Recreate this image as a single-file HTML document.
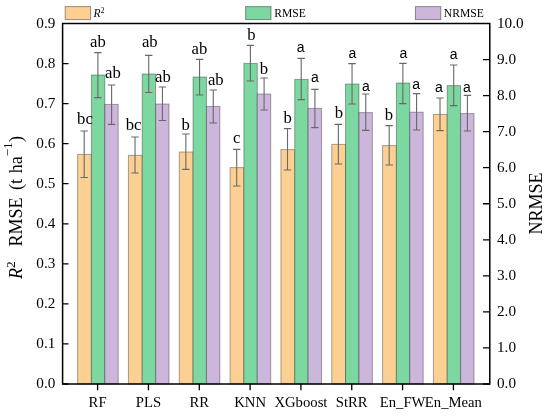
<!DOCTYPE html>
<html><head><meta charset="utf-8"><title>Model comparison chart</title>
<style>html,body{margin:0;padding:0;background:#fff}svg{display:block}text{font-family:"Liberation Serif",serif;fill:#000}.s{font-family:"Liberation Sans",sans-serif}</style>
</head><body>
<svg width="550" height="416" viewBox="0 0 550 416">
<rect width="550" height="416" fill="#fff"/>
<rect x="77.60" y="154.40" width="13.80" height="229.60" fill="#FCCF92" stroke="#000" stroke-opacity="0.33" stroke-width="1"/>
<rect x="91.40" y="75.00" width="13.40" height="309.00" fill="#7DD7A0" stroke="#000" stroke-opacity="0.33" stroke-width="1"/>
<rect x="104.80" y="104.40" width="13.40" height="279.60" fill="#CCB6DC" stroke="#000" stroke-opacity="0.33" stroke-width="1"/>
<rect x="128.43" y="155.40" width="13.80" height="228.60" fill="#FCCF92" stroke="#000" stroke-opacity="0.33" stroke-width="1"/>
<rect x="142.23" y="74.00" width="13.40" height="310.00" fill="#7DD7A0" stroke="#000" stroke-opacity="0.33" stroke-width="1"/>
<rect x="155.63" y="104.00" width="13.40" height="280.00" fill="#CCB6DC" stroke="#000" stroke-opacity="0.33" stroke-width="1"/>
<rect x="179.26" y="152.00" width="13.80" height="232.00" fill="#FCCF92" stroke="#000" stroke-opacity="0.33" stroke-width="1"/>
<rect x="193.06" y="77.00" width="13.40" height="307.00" fill="#7DD7A0" stroke="#000" stroke-opacity="0.33" stroke-width="1"/>
<rect x="206.46" y="106.40" width="13.40" height="277.60" fill="#CCB6DC" stroke="#000" stroke-opacity="0.33" stroke-width="1"/>
<rect x="230.09" y="167.60" width="13.80" height="216.40" fill="#FCCF92" stroke="#000" stroke-opacity="0.33" stroke-width="1"/>
<rect x="243.89" y="63.40" width="13.40" height="320.60" fill="#7DD7A0" stroke="#000" stroke-opacity="0.33" stroke-width="1"/>
<rect x="257.29" y="94.00" width="13.40" height="290.00" fill="#CCB6DC" stroke="#000" stroke-opacity="0.33" stroke-width="1"/>
<rect x="280.92" y="149.60" width="13.80" height="234.40" fill="#FCCF92" stroke="#000" stroke-opacity="0.33" stroke-width="1"/>
<rect x="294.72" y="79.40" width="13.40" height="304.60" fill="#7DD7A0" stroke="#000" stroke-opacity="0.33" stroke-width="1"/>
<rect x="308.12" y="108.40" width="13.40" height="275.60" fill="#CCB6DC" stroke="#000" stroke-opacity="0.33" stroke-width="1"/>
<rect x="331.75" y="144.40" width="13.80" height="239.60" fill="#FCCF92" stroke="#000" stroke-opacity="0.33" stroke-width="1"/>
<rect x="345.55" y="84.00" width="13.40" height="300.00" fill="#7DD7A0" stroke="#000" stroke-opacity="0.33" stroke-width="1"/>
<rect x="358.95" y="112.60" width="13.40" height="271.40" fill="#CCB6DC" stroke="#000" stroke-opacity="0.33" stroke-width="1"/>
<rect x="382.58" y="145.60" width="13.80" height="238.40" fill="#FCCF92" stroke="#000" stroke-opacity="0.33" stroke-width="1"/>
<rect x="396.38" y="83.00" width="13.40" height="301.00" fill="#7DD7A0" stroke="#000" stroke-opacity="0.33" stroke-width="1"/>
<rect x="409.78" y="112.20" width="13.40" height="271.80" fill="#CCB6DC" stroke="#000" stroke-opacity="0.33" stroke-width="1"/>
<rect x="433.41" y="114.40" width="13.80" height="269.60" fill="#FCCF92" stroke="#000" stroke-opacity="0.33" stroke-width="1"/>
<rect x="447.21" y="85.60" width="13.40" height="298.40" fill="#7DD7A0" stroke="#000" stroke-opacity="0.33" stroke-width="1"/>
<rect x="460.61" y="113.60" width="13.40" height="270.40" fill="#CCB6DC" stroke="#000" stroke-opacity="0.33" stroke-width="1"/>
<path d="M84.20 131.00V177.50M80.50 131.00h7.4M80.50 177.50h7.4" fill="none" stroke="#686868" stroke-width="1.1"/>
<path d="M97.90 52.60V97.60M94.20 52.60h7.4M94.20 97.60h7.4" fill="none" stroke="#686868" stroke-width="1.1"/>
<path d="M111.60 85.00V124.40M107.90 85.00h7.4M107.90 124.40h7.4" fill="none" stroke="#686868" stroke-width="1.1"/>
<path d="M135.03 137.00V173.00M131.33 137.00h7.4M131.33 173.00h7.4" fill="none" stroke="#686868" stroke-width="1.1"/>
<path d="M148.73 55.40V92.50M145.03 55.40h7.4M145.03 92.50h7.4" fill="none" stroke="#686868" stroke-width="1.1"/>
<path d="M162.43 87.00V120.50M158.73 87.00h7.4M158.73 120.50h7.4" fill="none" stroke="#686868" stroke-width="1.1"/>
<path d="M185.86 134.00V169.40M182.16 134.00h7.4M182.16 169.40h7.4" fill="none" stroke="#686868" stroke-width="1.1"/>
<path d="M199.56 59.40V95.00M195.86 59.40h7.4M195.86 95.00h7.4" fill="none" stroke="#686868" stroke-width="1.1"/>
<path d="M213.26 90.00V123.00M209.56 90.00h7.4M209.56 123.00h7.4" fill="none" stroke="#686868" stroke-width="1.1"/>
<path d="M236.69 149.40V186.00M232.99 149.40h7.4M232.99 186.00h7.4" fill="none" stroke="#686868" stroke-width="1.1"/>
<path d="M250.39 45.40V81.00M246.69 45.40h7.4M246.69 81.00h7.4" fill="none" stroke="#686868" stroke-width="1.1"/>
<path d="M264.09 78.00V110.00M260.39 78.00h7.4M260.39 110.00h7.4" fill="none" stroke="#686868" stroke-width="1.1"/>
<path d="M287.52 128.60V170.00M283.82 128.60h7.4M283.82 170.00h7.4" fill="none" stroke="#686868" stroke-width="1.1"/>
<path d="M301.22 58.40V99.60M297.52 58.40h7.4M297.52 99.60h7.4" fill="none" stroke="#686868" stroke-width="1.1"/>
<path d="M314.92 89.40V127.60M311.22 89.40h7.4M311.22 127.60h7.4" fill="none" stroke="#686868" stroke-width="1.1"/>
<path d="M338.35 124.40V164.00M334.65 124.40h7.4M334.65 164.00h7.4" fill="none" stroke="#686868" stroke-width="1.1"/>
<path d="M352.05 63.60V104.00M348.35 63.60h7.4M348.35 104.00h7.4" fill="none" stroke="#686868" stroke-width="1.1"/>
<path d="M365.75 94.00V130.40M362.05 94.00h7.4M362.05 130.40h7.4" fill="none" stroke="#686868" stroke-width="1.1"/>
<path d="M389.18 125.60V165.00M385.48 125.60h7.4M385.48 165.00h7.4" fill="none" stroke="#686868" stroke-width="1.1"/>
<path d="M402.88 63.40V103.60M399.18 63.40h7.4M399.18 103.60h7.4" fill="none" stroke="#686868" stroke-width="1.1"/>
<path d="M416.58 93.60V130.00M412.88 93.60h7.4M412.88 130.00h7.4" fill="none" stroke="#686868" stroke-width="1.1"/>
<path d="M440.01 98.00V130.60M436.31 98.00h7.4M436.31 130.60h7.4" fill="none" stroke="#686868" stroke-width="1.1"/>
<path d="M453.71 65.00V105.60M450.01 65.00h7.4M450.01 105.60h7.4" fill="none" stroke="#686868" stroke-width="1.1"/>
<path d="M467.41 95.40V131.00M463.71 95.40h7.4M463.71 131.00h7.4" fill="none" stroke="#686868" stroke-width="1.1"/>
<path d="M62.6 23.5H489.8V384.0H62.6Z" fill="none" stroke="#000" stroke-width="1.5"/>
<path d="M62.6 384.00h5.9M62.6 343.94h5.9M62.6 303.89h5.9M62.6 263.83h5.9M62.6 223.78h5.9M62.6 183.72h5.9M62.6 143.67h5.9M62.6 103.61h5.9M62.6 63.56h5.9M489.8 384.00h-6.8M489.8 347.95h-6.8M489.8 311.90h-6.8M489.8 275.85h-6.8M489.8 239.80h-6.8M489.8 203.75h-6.8M489.8 167.70h-6.8M489.8 131.65h-6.8M489.8 95.60h-6.8M489.8 59.55h-6.8M97.60 384.0v6.2M148.43 384.0v6.2M199.26 384.0v6.2M250.09 384.0v6.2M300.92 384.0v6.2M351.75 384.0v6.2M402.58 384.0v6.2M453.41 384.0v6.2" fill="none" stroke="#000" stroke-width="1.3"/>
<text x="55.3" y="388.40" font-size="15.2" text-anchor="end">0.0</text>
<text x="55.3" y="348.34" font-size="15.2" text-anchor="end">0.1</text>
<text x="55.3" y="308.29" font-size="15.2" text-anchor="end">0.2</text>
<text x="55.3" y="268.23" font-size="15.2" text-anchor="end">0.3</text>
<text x="55.3" y="228.18" font-size="15.2" text-anchor="end">0.4</text>
<text x="55.3" y="188.12" font-size="15.2" text-anchor="end">0.5</text>
<text x="55.3" y="148.07" font-size="15.2" text-anchor="end">0.6</text>
<text x="55.3" y="108.01" font-size="15.2" text-anchor="end">0.7</text>
<text x="55.3" y="67.96" font-size="15.2" text-anchor="end">0.8</text>
<text x="55.3" y="27.90" font-size="15.2" text-anchor="end">0.9</text>
<text x="497" y="388.40" font-size="15.2">0.0</text>
<text x="497" y="352.35" font-size="15.2">1.0</text>
<text x="497" y="316.30" font-size="15.2">2.0</text>
<text x="497" y="280.25" font-size="15.2">3.0</text>
<text x="497" y="244.20" font-size="15.2">4.0</text>
<text x="497" y="208.15" font-size="15.2">5.0</text>
<text x="497" y="172.10" font-size="15.2">6.0</text>
<text x="497" y="136.05" font-size="15.2">7.0</text>
<text x="497" y="100.00" font-size="15.2">8.0</text>
<text x="497" y="63.95" font-size="15.2">9.0</text>
<text x="497" y="27.90" font-size="15.2">10.0</text>
<text x="97.60" y="407" font-size="14.7" text-anchor="middle">RF</text>
<text x="148.43" y="407" font-size="14.7" text-anchor="middle">PLS</text>
<text x="199.26" y="407" font-size="14.7" text-anchor="middle">RR</text>
<text x="250.09" y="407" font-size="14.7" text-anchor="middle">KNN</text>
<text x="300.92" y="407" font-size="14.7" text-anchor="middle">XGboost</text>
<text x="351.75" y="407" font-size="14.7" text-anchor="middle">StRR</text>
<text x="402.58" y="407" font-size="14.7" text-anchor="middle">En_FW</text>
<text x="453.41" y="407" font-size="14.7" text-anchor="middle">En_Mean</text>
<text x="85" y="124" font-size="16.7" text-anchor="middle">bc</text>
<text x="98" y="47" font-size="16.7" text-anchor="middle">ab</text>
<text x="113" y="78.4" font-size="16.7" text-anchor="middle">ab</text>
<text x="133.6" y="130.4" font-size="16.7" text-anchor="middle">bc</text>
<text x="149.8" y="47" font-size="16.7" text-anchor="middle">ab</text>
<text x="163" y="82" font-size="16.7" text-anchor="middle">ab</text>
<text x="185.6" y="130.4" font-size="16.7" text-anchor="middle">b</text>
<text x="199.4" y="54" font-size="16.7" text-anchor="middle">ab</text>
<text x="215.8" y="84.6" font-size="16.7" text-anchor="middle">ab</text>
<text x="236.8" y="143" font-size="16.7" text-anchor="middle">c</text>
<text x="251.3" y="39.6" font-size="16.7" text-anchor="middle">b</text>
<text x="263.8" y="73.6" font-size="16.7" text-anchor="middle">b</text>
<text x="287.7" y="123" font-size="16.7" text-anchor="middle">b</text>
<text class="s" x="300.7" y="52" font-size="14" text-anchor="middle">a</text>
<text class="s" x="315" y="82" font-size="14" text-anchor="middle">a</text>
<text x="339" y="117.6" font-size="16.7" text-anchor="middle">b</text>
<text class="s" x="352.5" y="57.6" font-size="14" text-anchor="middle">a</text>
<text class="s" x="366" y="90.5" font-size="14" text-anchor="middle">a</text>
<text x="389" y="120" font-size="16.7" text-anchor="middle">b</text>
<text class="s" x="403.3" y="57.6" font-size="14" text-anchor="middle">a</text>
<text class="s" x="416.2" y="89.4" font-size="14" text-anchor="middle">a</text>
<text class="s" x="439" y="91.6" font-size="14" text-anchor="middle">a</text>
<text class="s" x="453.7" y="59.4" font-size="14" text-anchor="middle">a</text>
<text class="s" x="467" y="91.6" font-size="14" text-anchor="middle">a</text>
<rect x="65.2" y="6.6" width="25.4" height="13" fill="#FCCF92" stroke="#000" stroke-opacity="0.4" stroke-width="1"/>
<rect x="245.6" y="6.6" width="25.4" height="13" fill="#7DD7A0" stroke="#000" stroke-opacity="0.4" stroke-width="1"/>
<rect x="415.4" y="6.6" width="25.4" height="13" fill="#CCB6DC" stroke="#000" stroke-opacity="0.4" stroke-width="1"/>
<text x="93.6" y="17.2" font-size="11.5"><tspan font-style="italic">R</tspan><tspan font-size="7.5" dy="-4.5">2</tspan></text>
<text x="274.2" y="16.6" font-size="11.6">RMSE</text>
<text x="443.8" y="16.6" font-size="11.6">NRMSE</text>
<text transform="translate(21.8 279) rotate(-90)" font-size="18"><tspan font-style="italic">R</tspan><tspan font-size="13.5" dy="-7.3">2</tspan></text>
<text transform="translate(21.8 246.5) rotate(-90)" font-size="18">RMSE<tspan dx="3"> (t</tspan><tspan dx="1.2"> ha</tspan><tspan font-size="13" dy="-9.8">−1</tspan><tspan dy="9.8" dx="0.5">)</tspan></text>
<text transform="translate(542 234.4) rotate(-90)" font-size="18">NRMSE</text>
</svg>
</body></html>
